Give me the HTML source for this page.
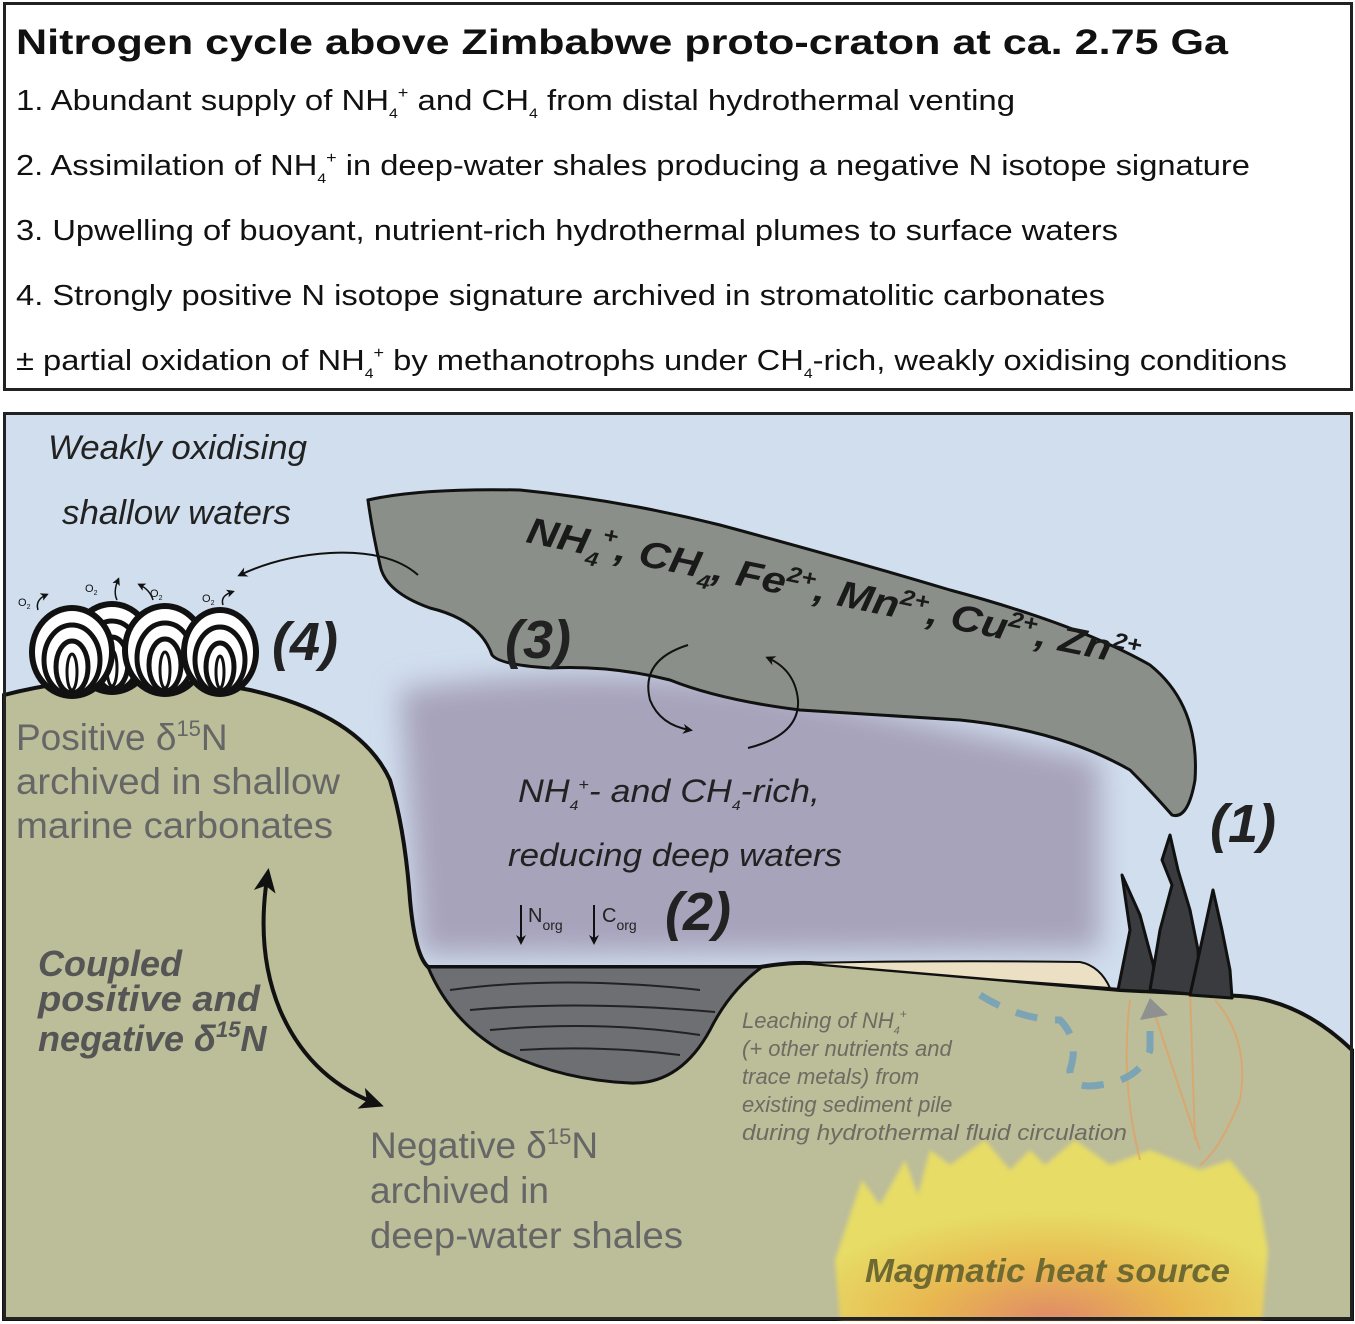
<!DOCTYPE html>
<html><head><meta charset="utf-8"><style>
body{margin:0;background:#fff}
svg{display:block}
text{font-family:"Liberation Sans",sans-serif}
</style></head><body>
<svg width="1355" height="1324" viewBox="0 0 1355 1324" xmlns="http://www.w3.org/2000/svg">
<defs>
<filter id="blur" x="-20%" y="-20%" width="140%" height="140%"><feGaussianBlur stdDeviation="14"/></filter>
<filter id="blur2"><feGaussianBlur stdDeviation="2"/></filter>
<radialGradient id="fire" cx="0.5" cy="1" r="0.6"><stop offset="0" stop-color="#e08a68"/><stop offset="0.5" stop-color="#e8b850"/><stop offset="1" stop-color="#e6dc66"/></radialGradient>
<marker id="ah" markerWidth="10" markerHeight="10" refX="7" refY="5" orient="auto" markerUnits="userSpaceOnUse"><path d="M0,0 L10,5 L0,10 L3,5 Z" fill="#111"/></marker>
<marker id="ahb" markerWidth="26" markerHeight="22" refX="20" refY="11" orient="auto-start-reverse" markerUnits="userSpaceOnUse"><path d="M0,0 L24,11 L0,22 L6,11 Z" fill="#111"/></marker>
<marker id="ahs" markerWidth="8" markerHeight="8" refX="5" refY="4" orient="auto" markerUnits="userSpaceOnUse"><path d="M0,0 L8,4 L0,8 L2,4 Z" fill="#111"/></marker>
</defs>
<rect x="4.5" y="3.5" width="1347" height="386" fill="#fff" stroke="#222" stroke-width="3"/>
<text x="16" y="54" font-size="35" font-weight="bold" fill="#111" textLength="1212" lengthAdjust="spacingAndGlyphs">Nitrogen cycle above Zimbabwe proto-craton at ca. 2.75 Ga</text>
<g font-size="29" fill="#111">
<text x="16" y="110" textLength="999" lengthAdjust="spacingAndGlyphs">1.  Abundant supply of NH<tspan font-size="14" dy="8">4</tspan><tspan font-size="16" dy="-20">+</tspan><tspan dy="12"> and CH</tspan><tspan font-size="14" dy="8">4</tspan><tspan dy="-8"> from distal hydrothermal venting</tspan></text>
<text x="16" y="175" textLength="1234" lengthAdjust="spacingAndGlyphs">2.  Assimilation of NH<tspan font-size="14" dy="8">4</tspan><tspan font-size="16" dy="-20">+</tspan><tspan dy="12"> in deep-water shales producing a negative N isotope signature</tspan></text>
<text x="16" y="240" textLength="1102" lengthAdjust="spacingAndGlyphs">3.  Upwelling of buoyant, nutrient-rich hydrothermal plumes to surface waters</text>
<text x="16" y="305" textLength="1089" lengthAdjust="spacingAndGlyphs">4.  Strongly positive N isotope signature archived in stromatolitic carbonates</text>
<text x="16" y="370" textLength="1271" lengthAdjust="spacingAndGlyphs">± partial oxidation of NH<tspan font-size="14" dy="8">4</tspan><tspan font-size="16" dy="-20">+</tspan><tspan dy="12"> by methanotrophs under CH</tspan><tspan font-size="14" dy="8">4</tspan><tspan dy="-8">-rich, weakly oxidising conditions</tspan></text>
</g>
<rect x="4" y="413" width="1348" height="906" fill="#d0deee"/>
<path d="M400,690 Q600,660 780,690 L1100,760 L1100,950 L420,955 Z" fill="#a7a3bb" filter="url(#blur)"/>
<path d="M4,695 Q120,665 250,690 Q360,715 390,780 Q405,830 410,900 Q415,955 428,967 L760,967 Q790,962 810,963 L1120,990 L1240,996 Q1300,1000 1352,1050 L1352,1319 L4,1319 Z" fill="#bcbd99" stroke="#111" stroke-width="4"/>
<path d="M428,967 L762,967 Q730,990 710,1030 Q680,1085 630,1083 Q560,1080 500,1050 Q450,1020 428,967 Z" fill="#6d6f72" stroke="#111" stroke-width="3"/>
<g stroke="#222" stroke-width="2" fill="none">
<path d="M450,990 Q560,975 700,990"/><path d="M470,1010 Q580,1000 715,1012"/><path d="M490,1030 Q600,1020 700,1035"/><path d="M520,1050 Q600,1045 680,1055"/>
</g>
<path d="M800,963 Q950,960 1080,962 Q1100,966 1110,988 L1000,980 Z" fill="#ece0c4" stroke="#111" stroke-width="2"/>
<path d="M840,1319 L835,1260 L850,1215 L862,1180 L880,1205 L905,1160 L918,1195 L930,1150 L950,1165 L985,1140 L1010,1170 L1030,1150 L1045,1165 L1075,1140 L1110,1165 L1150,1150 L1200,1170 L1230,1160 L1258,1195 L1268,1250 L1262,1319 Z" fill="url(#fire)" filter="url(#blur2)"/>
<path d="M1130,1000 Q1120,1080 1140,1160 M1150,1000 L1200,1150 M1190,990 L1195,1140 M1215,1000 Q1250,1040 1240,1100 Q1220,1150 1200,1165" stroke="#e6a060" stroke-width="2" fill="none" opacity="0.7"/>
<path d="M980,995 Q1020,1020 1060,1020 Q1080,1040 1070,1070 Q1070,1090 1100,1085 Q1140,1080 1150,1050 L1150,1010" stroke="#7da4b4" stroke-width="7" fill="none" stroke-dasharray="22,18"/>
<path d="M1140,1020 L1150,998 L1168,1015 Z" fill="#8f9090"/>
<g fill="#3a3b3e" stroke="#111" stroke-width="3" stroke-linejoin="round">
<path d="M1118,990 L1130,930 L1122,875 L1140,915 L1152,960 L1160,992 Z"/>
<path d="M1150,990 L1160,930 L1172,885 L1162,860 L1170,835 L1178,870 L1190,910 L1198,950 L1200,995 Z"/>
<path d="M1190,995 L1200,950 L1213,890 L1222,930 L1230,970 L1232,998 Z"/>
</g>
<path d="M368,500 Q420,488 520,490 Q620,500 720,525 Q850,560 950,590 Q1080,625 1150,665 Q1200,705 1195,780 Q1188,820 1172,815 Q1150,790 1130,770 Q1060,730 960,720 Q880,715 800,710 Q720,700 670,680 Q610,665 550,668 Q500,665 492,655 Q480,620 430,608 Q385,592 380,565 Q372,530 368,500 Z" fill="#8b8f89" stroke="#111" stroke-width="3"/>
<g font-size="37" font-weight="bold" font-style="italic" fill="#1a1a1a">
<text transform="translate(525,542) rotate(11.5)" textLength="625" lengthAdjust="spacingAndGlyphs">NH<tspan font-size="20" dy="10">4</tspan><tspan font-size="22" dy="-26">+</tspan><tspan dy="16">, CH</tspan><tspan font-size="20" dy="10">4</tspan><tspan dy="-10">, Fe</tspan><tspan font-size="22" dy="-14">2+</tspan><tspan dy="14">, Mn</tspan><tspan font-size="22" dy="-14">2+</tspan><tspan dy="14">, Cu</tspan><tspan font-size="22" dy="-14">2+</tspan><tspan dy="14">, Zn</tspan><tspan font-size="22" dy="-14">2+</tspan></text>
</g>
<path d="M418,575 Q390,550 330,553 Q280,556 240,575" stroke="#111" stroke-width="2" fill="none" marker-end="url(#ah)"/>
<path d="M688,645 Q640,660 650,700 Q660,725 690,730" stroke="#111" stroke-width="2" fill="none" marker-end="url(#ah)"/>
<path d="M748,748 Q800,735 798,700 Q795,670 768,658" stroke="#111" stroke-width="2" fill="none" marker-end="url(#ah)"/>
<path d="M268,872 Q255,950 280,1010 Q310,1080 380,1105" stroke="#111" stroke-width="4" fill="none" marker-start="url(#ahb)" marker-end="url(#ahb)"/>
<!-- stromatolites -->
<g stroke="#111" fill="#fff">
<g transform="translate(112,648)"><ellipse rx="40" ry="44" stroke-width="6"/><ellipse rx="28" ry="35" cy="8" stroke-width="5"/><ellipse rx="16" ry="26" cy="15" stroke-width="5"/><ellipse rx="5" ry="18" cy="20" stroke-width="3"/></g>
<g transform="translate(72,652)"><ellipse rx="40" ry="44" stroke-width="6"/><ellipse rx="28" ry="35" cy="8" stroke-width="5"/><ellipse rx="16" ry="26" cy="15" stroke-width="5"/><ellipse rx="5" ry="18" cy="20" stroke-width="3"/></g>
<g transform="translate(165,650)"><ellipse rx="40" ry="44" stroke-width="6"/><ellipse rx="28" ry="35" cy="8" stroke-width="5"/><ellipse rx="16" ry="26" cy="15" stroke-width="5"/><ellipse rx="5" ry="18" cy="20" stroke-width="3"/></g>
<g transform="translate(220,652)"><ellipse rx="36" ry="42" stroke-width="6"/><ellipse rx="25" ry="33" cy="8" stroke-width="5"/><ellipse rx="14" ry="24" cy="15" stroke-width="5"/><ellipse rx="4" ry="16" cy="20" stroke-width="3"/></g>
</g>
<g font-size="11" fill="#111">
<text x="18" y="606">O<tspan font-size="7" dy="3">2</tspan></text>
<text x="85" y="592">O<tspan font-size="7" dy="3">2</tspan></text>
<text x="150" y="597">O<tspan font-size="7" dy="3">2</tspan></text>
<text x="202" y="602">O<tspan font-size="7" dy="3">2</tspan></text>
</g>
<g stroke="#111" stroke-width="1.5" fill="none">
<path d="M38,610 Q35,600 46,595" marker-end="url(#ahs)"/><path d="M117,600 Q113,592 118,580" marker-end="url(#ahs)"/><path d="M153,600 Q150,590 140,585" marker-end="url(#ahs)"/><path d="M223,605 Q220,596 232,592" marker-end="url(#ahs)"/>
</g>
<g font-size="34" font-style="italic" fill="#222">
<text x="48" y="459" textLength="259" lengthAdjust="spacingAndGlyphs">Weakly oxidising</text>
<text x="62" y="524" textLength="229" lengthAdjust="spacingAndGlyphs">shallow waters</text>
</g>
<g font-size="54" font-style="italic" font-weight="bold" fill="#222">
<text x="272" y="660">(4)</text>
<text x="505" y="658">(3)</text>
<text x="665" y="930">(2)</text>
<text x="1210" y="842">(1)</text>
</g>
<g font-size="32" font-style="italic" fill="#222">
<text x="518" y="802" textLength="302" lengthAdjust="spacingAndGlyphs">NH<tspan font-size="14" dy="8">4</tspan><tspan font-size="16" dy="-20">+</tspan><tspan dy="12">- and CH</tspan><tspan font-size="14" dy="8">4</tspan><tspan dy="-8">-rich,</tspan></text>
<text x="508" y="866" textLength="334" lengthAdjust="spacingAndGlyphs">reducing deep waters</text>
</g>
<g font-size="20" fill="#222">
<text x="528" y="922">N<tspan font-size="14" dy="8">org</tspan></text>
<text x="602" y="922">C<tspan font-size="14" dy="8">org</tspan></text>
</g>
<path d="M521,905 L521,942" stroke="#111" stroke-width="2" marker-end="url(#ah)"/>
<path d="M594,905 L594,942" stroke="#111" stroke-width="2" marker-end="url(#ah)"/>
<g font-size="37" fill="#666">
<text x="16" y="750">Positive δ<tspan font-size="22" dy="-14">15</tspan><tspan dy="14">N</tspan></text>
<text x="16" y="794" textLength="324" lengthAdjust="spacingAndGlyphs">archived in shallow</text>
<text x="16" y="838" textLength="317" lengthAdjust="spacingAndGlyphs">marine carbonates</text>
<text x="370" y="1158">Negative δ<tspan font-size="22" dy="-14">15</tspan><tspan dy="14">N</tspan></text>
<text x="370" y="1203">archived in</text>
<text x="370" y="1248" textLength="313" lengthAdjust="spacingAndGlyphs">deep-water shales</text>
</g>
<g font-size="36" font-style="italic" font-weight="bold" fill="#555">
<text x="38" y="976">Coupled</text>
<text x="38" y="1011" textLength="222" lengthAdjust="spacingAndGlyphs">positive and</text>
<text x="38" y="1051">negative δ<tspan font-size="22" dy="-14">15</tspan><tspan dy="14">N</tspan></text>
</g>
<g font-size="22" font-style="italic" fill="#6c6c62">
<text x="742" y="1028">Leaching of NH<tspan font-size="11" dy="6">4</tspan><tspan font-size="12" dy="-16">+</tspan></text>
<text x="742" y="1056">(+ other nutrients and</text>
<text x="742" y="1084">trace metals) from</text>
<text x="742" y="1112">existing sediment pile</text>
<text x="742" y="1140" textLength="385" lengthAdjust="spacingAndGlyphs">during hydrothermal fluid circulation</text>
</g>
<text x="865" y="1282" font-size="33" font-style="italic" font-weight="bold" fill="#6e6a32" textLength="365" lengthAdjust="spacingAndGlyphs">Magmatic heat source</text>
<rect x="4.5" y="413.5" width="1347" height="905" fill="none" stroke="#222" stroke-width="3"/>
</svg>
</body></html>
